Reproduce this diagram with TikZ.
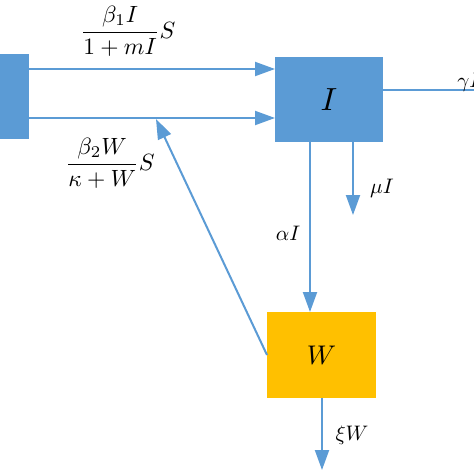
\documentclass[tikz,border=0pt]{standalone}
\usetikzlibrary{arrows.meta}
\definecolor{cblue}{HTML}{5B9BD5}
\definecolor{corange}{HTML}{FFC000}
\begin{document}
\begin{tikzpicture}[x=1pt,y=-1pt,
  flow/.style={draw=cblue,line width=2pt,-{Triangle[length=20pt,width=14pt]}},
  plain/.style={draw=cblue,line width=2pt},
  lbl/.style={inner sep=0pt,scale=2.1},
  frac/.style={inner sep=0pt,scale=2.35},
  boxb/.style={fill=cblue,draw=none,inner sep=0pt},
  boxo/.style={fill=corange,draw=none,inner sep=0pt}]
\useasboundingbox (0,0) rectangle (474,474);
\fill[white] (0,0) rectangle (474,474);
% boxes
\node[boxb,minimum width=29pt,minimum height=85pt] (S) at (14.5,96.5) {};
\node[boxb,minimum width=108pt,minimum height=85pt] (I) at (329,99.5) {};
\node[boxo,minimum width=109pt,minimum height=86pt] (W) at (321.5,355) {};
\node[inner sep=0pt,scale=3.2] (It) at (I.center) {$I$};
\node[inner sep=0pt,scale=2.7] (Wt) at (W.center) {$W$};
% helper coordinates
\coordinate (s1) at (29,69);
\coordinate (i1) at (275,69);
\coordinate (s2) at (29,118);
\coordinate (i2) at (275,118);
\coordinate (g) at (474,90);
\coordinate (wl) at (267,355);
\coordinate (hit) at (156,119);
\coordinate (ia) at (310,142);
\coordinate (wa) at (310,312);
\coordinate (im) at (353,142);
\coordinate (me) at (353,215);
\coordinate (wx) at (322,398);
\coordinate (xe) at (322,470);
% connectors
\draw[flow] (s1) -- (i1);
\draw[flow] (s2) -- (i2);
\draw[plain] (I.east |- g) -- (g);
\draw[flow] (wl) -- (hit);
\draw[flow] (ia) -- (wa);
\draw[flow] (im) -- (me);
\draw[flow] (wx) -- (xe);
% labels
\node[frac] (l1) at (128,31) {$\displaystyle\frac{\beta_1 I}{1+mI}S$};
\node[frac] (l2) at (110,163) {$\displaystyle\frac{\beta_2 W}{\kappa+W}S$};
\node[lbl,anchor=west] (l3) at (457,82) {$\gamma I$};
\node[lbl] (l4) at (288,233) {$\alpha I$};
\node[lbl] (l5) at (382,188) {$\mu I$};
\node[lbl] (l6) at (352,435) {$\xi W$};
\end{tikzpicture}
\end{document}
